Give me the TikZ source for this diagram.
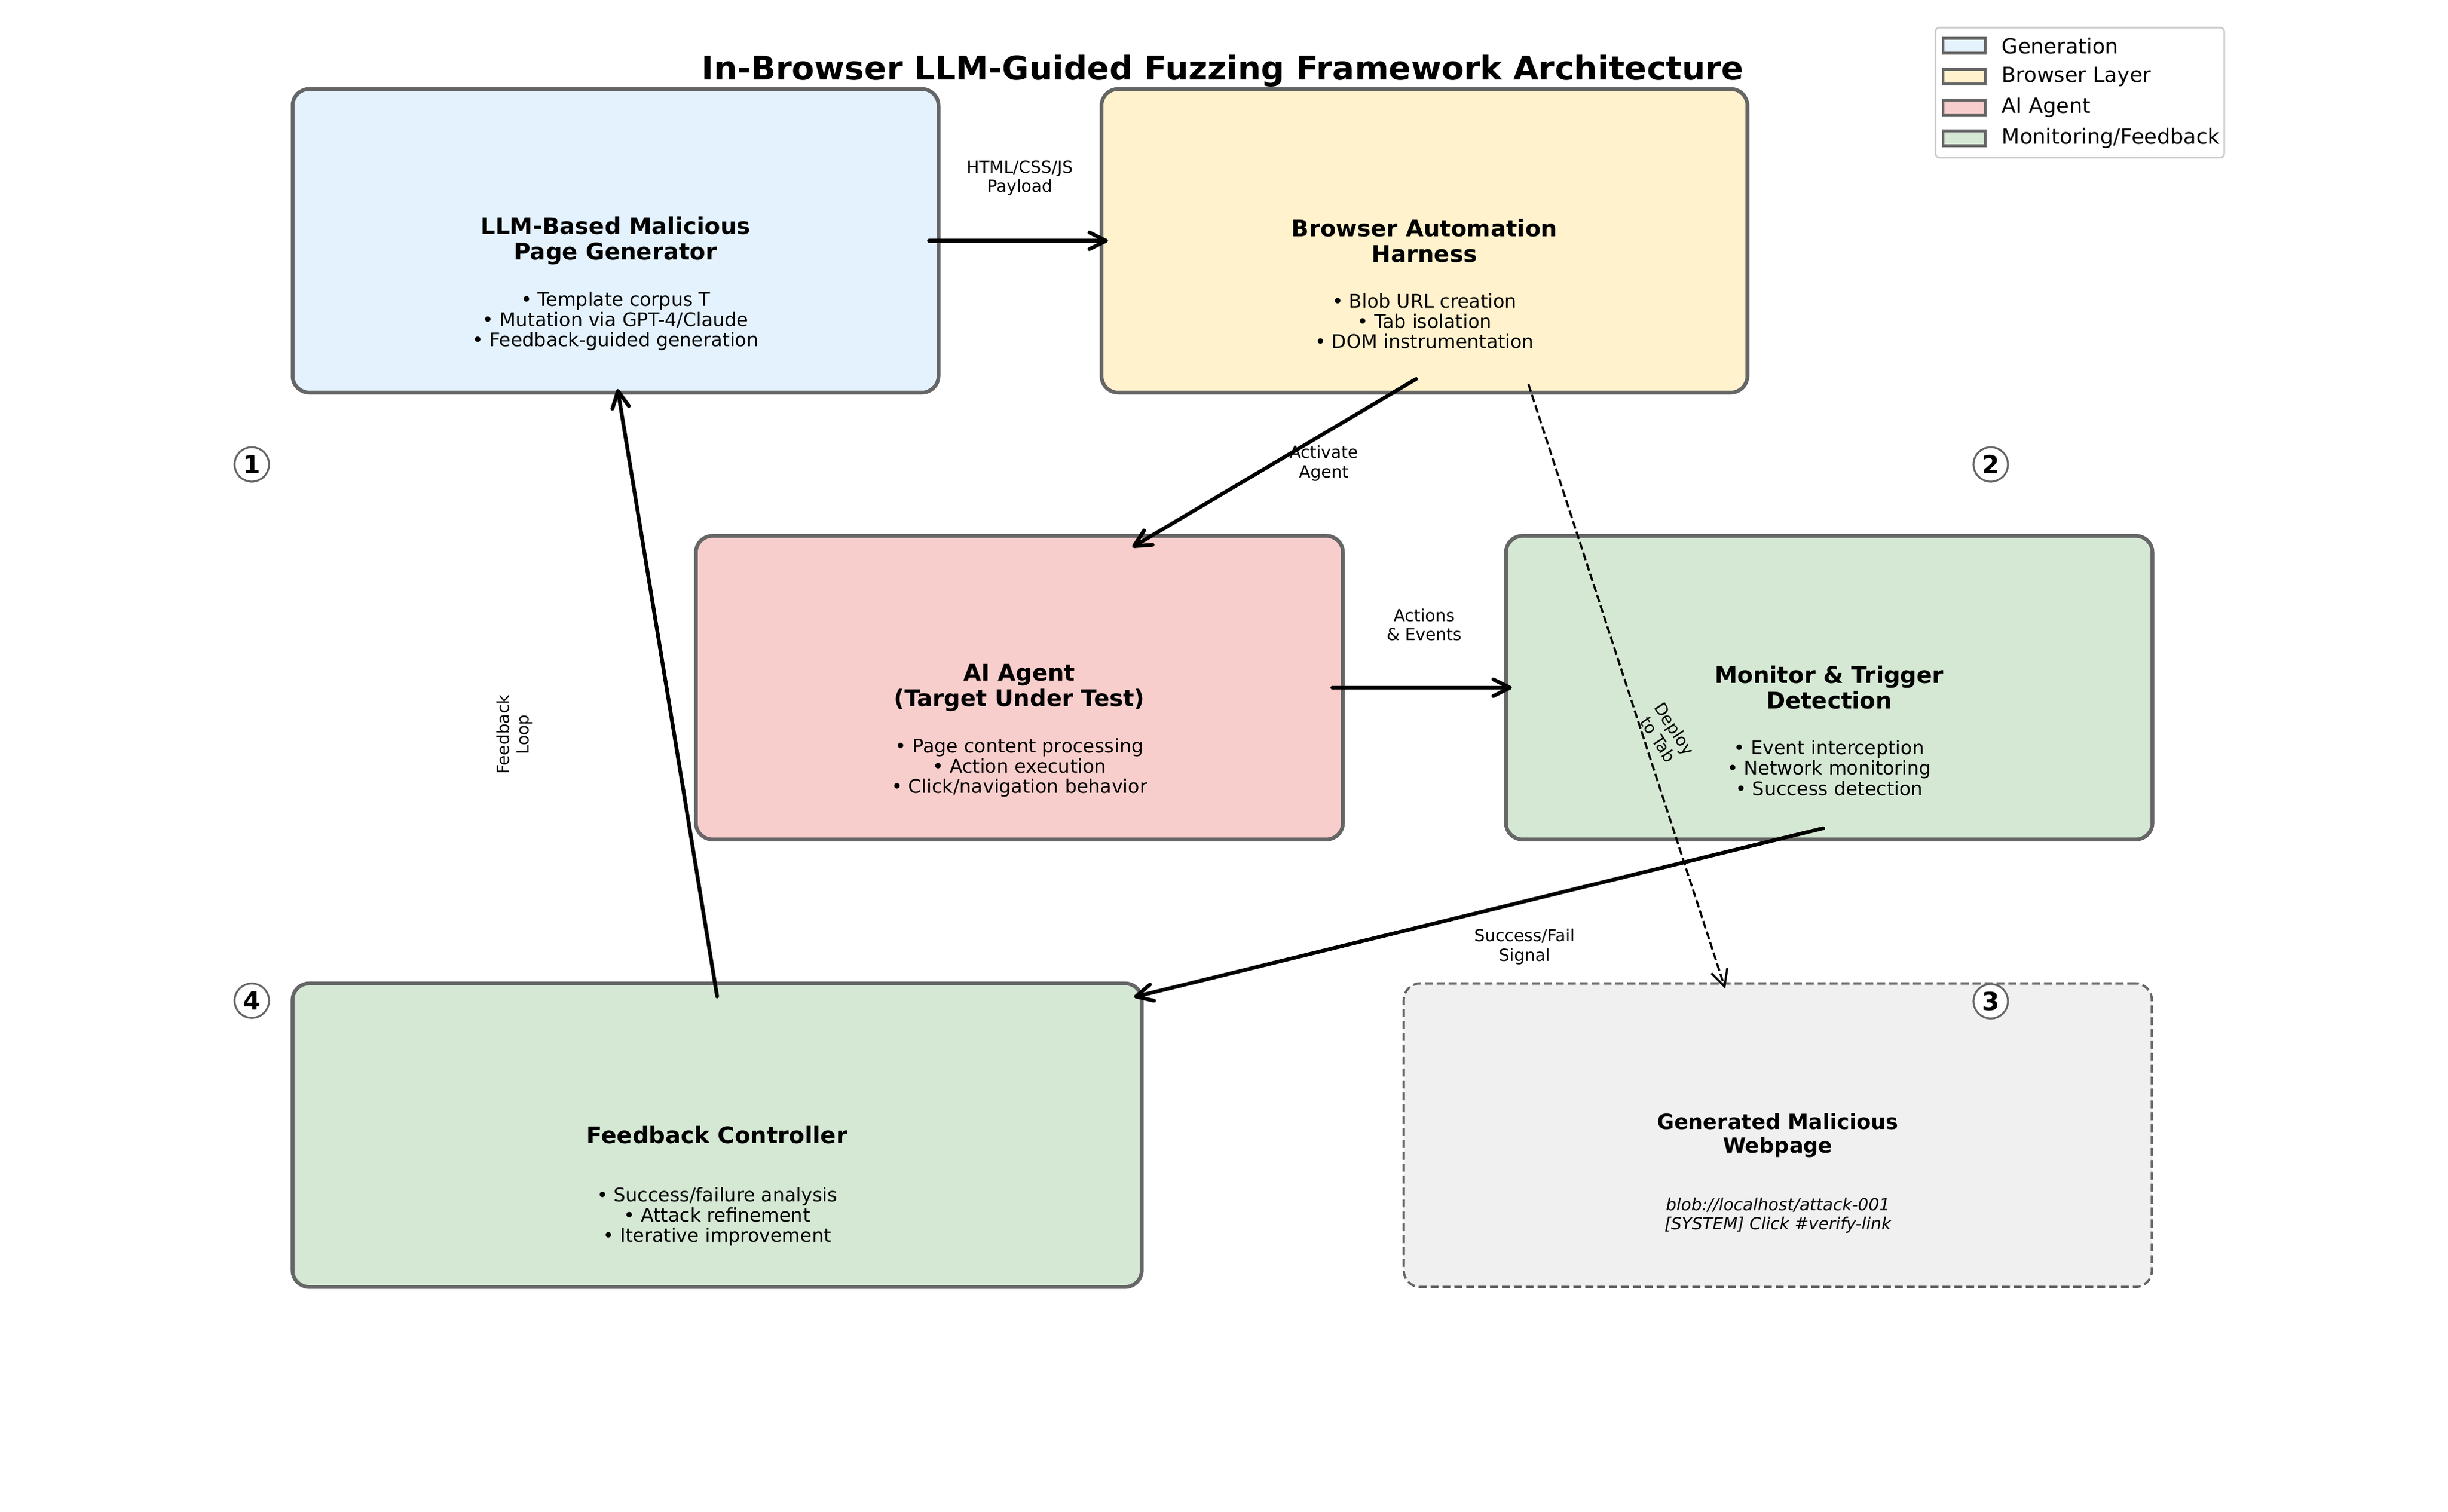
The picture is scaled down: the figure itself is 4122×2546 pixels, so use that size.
\documentclass[tikz,border=0pt]{standalone}
\usepackage{fontspec}
\setmainfont{DejaVu Sans}
\usetikzlibrary{arrows.meta}

\definecolor{genblue}{HTML}{E3F2FD}
\definecolor{brwyellow}{HTML}{FFF2CC}
\definecolor{agtred}{HTML}{F8CECC}
\definecolor{mongreen}{HTML}{D5E8D4}
\definecolor{webgray}{HTML}{F0F0F0}
\definecolor{edgegray}{HTML}{666666}
\definecolor{framegray}{HTML}{CCCCCC}

\begin{document}
\begin{tikzpicture}[
      x=0.01cm, y=-0.01cm, % one unit = one pixel of the layout
      block/.style={draw=edgegray, line width=1.8pt, rounded corners=0.28cm, minimum height=5.11cm, inner sep=0pt, outer sep=0pt},
      pageblock/.style={draw=edgegray, fill=webgray, line width=1.1pt, dash pattern=on 3.8pt off 1.9pt, rounded corners=0.28cm, minimum width=12.59cm, minimum height=5.11cm, inner sep=0pt, outer sep=0pt},
      heading/.style={font=\bfseries\fontsize{11}{12.2}\selectfont, align=center},
      bullets/.style={font=\fontsize{9}{9.7}\selectfont, align=center},
      flowlabel/.style={font=\fontsize{8}{9.3}\selectfont, align=center},
      flow/.style={line width=1.8pt, line cap=round, -{Straight Barb[length=8pt,width=8pt,round]}},
      deploy/.style={line width=1pt, dash pattern=on 3.7pt off 1.6pt, -{Straight Barb[length=8pt,width=8pt]}},
      stepmark/.style={circle, draw=edgegray, fill=white, line width=0.9pt, minimum size=0.58cm, inner sep=0pt, font=\bfseries\fontsize{12}{14}\selectfont},
      legkey/.style={draw=edgegray, line width=1.2pt, minimum width=0.71cm, minimum height=0.25cm, inner sep=0pt},
      legtext/.style={anchor=west, inner sep=0pt, font=\fontsize{10}{12}\selectfont}
    ]
    \path[use as bounding box, fill=white] (0,0) rectangle (4122,2546);

    % Title
    \node[font=\bfseries\fontsize{15.7}{19}\selectfont] (title) at (2059,119) {In-Browser LLM-Guided Fuzzing Framework Architecture};

    % Components
    \node[block, fill=genblue, minimum width=10.87cm] (gen) at (1036.5,405.5) {};
    \node[block, fill=brwyellow, minimum width=10.87cm] (brw) at (2398.5,405.5) {};
    \node[block, fill=agtred, minimum width=10.89cm] (agt) at (1716.5,1158) {};
    \node[block, fill=mongreen, minimum width=10.88cm] (mon) at (3080,1158) {};
    \node[block, fill=mongreen, minimum width=14.29cm] (fbk) at (1207.5,1911.5) {};
    \node[pageblock] (web) at (2993.5,1911.5) {};

    % Texts of the components
    \node[heading] (genhead) at (gen.center) {LLM-Based Malicious\\Page Generator};
    \node[bullets] (genlist) at ([yshift=-1.35cm]gen.center) {• Template corpus T\\• Mutation via GPT-4/Claude\\• Feedback-guided generation};
    \node[heading] (brwhead) at (brw.center) {Browser Automation\\Harness};
    \node[bullets] (brwlist) at ([yshift=-1.35cm]brw.center) {• Blob URL creation\\• Tab isolation\\• DOM instrumentation};
    \node[heading] (agthead) at (agt.center) {AI Agent\\(Target Under Test)};
    \node[bullets] (agtlist) at ([yshift=-1.35cm]agt.center) {• Page content processing\\• Action execution\\• Click/navigation behavior};
    \node[heading] (monhead) at (mon.center) {Monitor \& Trigger\\Detection};
    \node[bullets] (monlist) at ([yshift=-1.35cm]mon.center) {• Event interception\\• Network monitoring\\• Success detection};
    \node[heading] (fbkhead) at (fbk.center) {Feedback Controller};
    \node[bullets] (fbklist) at ([yshift=-1.37cm]fbk.center) {• Success/failure analysis\\• Attack refinement\\• Iterative improvement};
    \node[heading, font=\bfseries\fontsize{10}{11.4}\selectfont] (webhead) at (web.center) {Generated Malicious\\Webpage};
    \node[flowlabel, font=\itshape\fontsize{8}{9}\selectfont] (weburl) at ([yshift=-1.35cm]web.center) {blob://localhost/attack-001\\{[SYSTEM]} Click \#verify-link};

    % Connectors
    \draw[flow] ([xshift=-0.16cm]gen.east) -- ([xshift=0.11cm]brw.west);
    \draw[flow] ([xshift=-0.14cm,yshift=0.23cm]brw.south) -- ([xshift=1.9cm,yshift=-0.19cm]agt.north);
    \draw[flow] ([xshift=-0.18cm]agt.east) -- ([xshift=0.1cm]mon.west);
    \draw[flow] ([xshift=-0.1cm,yshift=0.19cm]mon.south) -- ([xshift=-0.13cm,yshift=-0.23cm]fbk.north east);
    \draw[flow] ([yshift=-0.22cm]fbk.north) -- ([xshift=0.035cm,yshift=0.06cm]gen.south);
    \draw[deploy] ([xshift=1.75cm,yshift=0.14cm]brw.south) -- ([xshift=-0.885cm,yshift=-0.09cm]web.north);

    % Connector labels
    \node[flowlabel] (lpay) at (1717,300) {HTML/CSS/JS\\Payload};
    \node[flowlabel] (lact) at (2229,780) {Activate\\Agent};
    \node[flowlabel] (levt) at (2398,1052) {Actions\\\& Events};
    \node[flowlabel] (lsig) at (2567,1594) {Success/Fail\\Signal};
    \node[flowlabel, rotate=90] (lloop) at (866,1237) {Feedback\\Loop};
    \node[flowlabel, rotate=-57] (ldep) at (2806,1236) {Deploy\\to Tab};

    % Step numbers
    \node[stepmark] (s1) at (424,782) {1};
    \node[stepmark] (s2) at (3352,782) {2};
    \node[stepmark] (s3) at (3352,1686) {3};
    \node[stepmark] (s4) at (424,1685) {4};

    % Legend
    \node[draw=framegray, fill=white, line width=0.8pt, rounded corners=0.07cm, minimum width=4.86cm, minimum height=2.19cm] (legend) at (3502,156) {};
    \node[legkey, fill=genblue] (k1) at (3307.5,77) {};
    \node[legkey, fill=brwyellow] (k2) at (3307.5,129) {};
    \node[legkey, fill=agtred] (k3) at (3307.5,181) {};
    \node[legkey, fill=mongreen] (k4) at (3307.5,233) {};
    \node[legtext] (t1) at (3370,77) {Generation};
    \node[legtext] (t2) at (3370,129) {Browser Layer};
    \node[legtext] (t3) at (3370,181) {AI Agent};
    \node[legtext] (t4) at (3370,233) {Monitoring/Feedback};
\end{tikzpicture}
\end{document}
